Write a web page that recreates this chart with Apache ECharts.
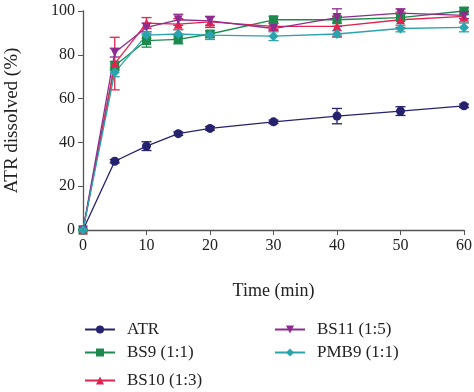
<!DOCTYPE html>
<html><head><meta charset="utf-8">
<script src="https://cdn.jsdelivr.net/npm/echarts@6/dist/echarts.min.js"></script>
<style>html,body{margin:0;padding:0;background:#fff}#c{width:474px;height:392px}</style>
</head><body><div id="c"></div>
<script>
var times = [0, 5, 10, 15, 20, 30, 40, 50, 60];
var seriesNames = ['ATR', 'BS9 (1:1)', 'BS10 (1:3)', 'BS11 (1:5)', 'PMB9 (1:1)'];
var atr  = [0, 31.4, 38.3, 44.0, 46.4, 49.4, 52.0, 54.3, 56.7];
var bs9  = [0, 75.0, 86.5, 87.0, 89.5, 96.0, 96.0, 97.0, 100.0];
var bs10 = [0, 76.0, 94.5, 94.0, 95.0, 93.0, 93.0, 96.0, 97.5];
var bs11 = [0, 81.0, 92.5, 96.0, 95.5, 92.0, 97.0, 99.0, 98.0];
var pmb9 = [0, 72.0, 89.0, 89.5, 89.0, 88.5, 89.5, 92.0, 92.5];
var atrErr  = [0, 0.8, 2.0, 0.8, 0.8, 0.8, 3.5, 2.0, 0.8];
var bs9Err  = [0, 2.0, 3.0, 2.0, 1.5, 1.5, 1.5, 1.5, 1.5];
var bs10Err = [0, 12.0, 2.5, 2.5, 2.5, 1.5, 4.5, 3.5, 2.5];
var bs11Err = [0, 2.0, 2.0, 2.5, 2.0, 1.0, 4.0, 2.0, 1.5];
var pmb9Err = [0, 2.0, 1.5, 2.0, 2.0, 2.0, 1.5, 1.5, 2.0];
var yTicks = [0, 20, 40, 60, 80, 100];
var xTicks = [0, 10, 20, 30, 40, 50, 60];

var colors = ['#25226e', '#1c8a4c', '#e2234f', '#8e2b8e', '#2aa3ad'];
var symbols = ['circle', 'rect', 'triangle', 'path://M0,0 L10,0 L5,9 Z', 'diamond'];
var values = [atr, bs9, bs10, bs11, pmb9];
var errs = [atrErr, bs9Err, bs10Err, bs11Err, pmb9Err];

var font = '"Liberation Serif", "DejaVu Serif", serif';
var series = [];
values.forEach(function (v, i) {
  series.push({
    name: seriesNames[i], type: 'line',
    data: times.map(function (t, k) { return [t, v[k]]; }),
    symbol: symbols[i], symbolSize: i === 4 ? 10 : 9,
    lineStyle: { color: colors[i], width: 1.3 },
    itemStyle: { color: colors[i] },
    clip: false, z: 3
  });
  series.push({
    name: seriesNames[i], type: 'custom',
    data: times.map(function (t, k) { return [t, v[k] - errs[i][k], v[k] + errs[i][k]]; }),
    clip: false, z: 2,
    renderItem: function (params, api) {
      var lo = api.coord([api.value(0), api.value(1)]);
      var hi = api.coord([api.value(0), api.value(2)]);
      var w = 5;
      var st = { stroke: colors[i], lineWidth: 1.3 };
      return { type: 'group', children: [
        { type: 'line', shape: { x1: lo[0], y1: lo[1], x2: hi[0], y2: hi[1] }, style: st },
        { type: 'line', shape: { x1: lo[0] - w, y1: lo[1], x2: lo[0] + w, y2: lo[1] }, style: st },
        { type: 'line', shape: { x1: hi[0] - w, y1: hi[1], x2: hi[0] + w, y2: hi[1] }, style: st }
      ]};
    }
  });
});

var legendPos = [[84, 330], [84, 353], [84, 381], [274, 330], [274, 353]];
var legends = seriesNames.map(function (n, i) {
  return {
    orient: 'horizontal', itemWidth: 30, itemHeight: 10, padding: 0,
    left: legendPos[i][0], top: legendPos[i][1] - 9,
    textStyle: { fontFamily: font, fontSize: 17, color: '#222', padding: [0, 0, 0, 7] },
    selectedMode: false, data: [n]
  };
});

var chart = echarts.init(document.getElementById('c'), null, { renderer: 'canvas' });
chart.setOption({
  animation: false,
  backgroundColor: '#fff',
  grid: { left: 83, right: 10, top: 11, bottom: 162, containLabel: false, outerBoundsMode: 'none' },
  xAxis: {
    type: 'value', min: 0, max: 60, interval: 10,
    name: 'Time (min)', nameLocation: 'middle', nameGap: 52,
    nameTextStyle: { fontFamily: font, fontSize: 18, color: '#222' },
    axisLine: { lineStyle: { color: '#555', width: 1.3 } },
    axisTick: { show: true, length: 5, lineStyle: { color: '#555' } },
    axisLabel: { fontFamily: font, fontSize: 16, color: '#222', margin: 8,
      formatter: function (v) { return xTicks.indexOf(v) >= 0 ? String(v) : ''; } },
    splitLine: { show: false }
  },
  yAxis: {
    type: 'value', min: 0, max: 100, interval: 20,
    name: 'ATR dissolved (%)', nameLocation: 'middle', nameGap: 61,
    nameTextStyle: { fontFamily: font, fontSize: 19, color: '#222' },
    axisLine: { show: true, lineStyle: { color: '#555', width: 1.3 } },
    axisTick: { show: true, length: 5, lineStyle: { color: '#555' } },
    axisLabel: { fontFamily: font, fontSize: 16, color: '#222', margin: 8,
      formatter: function (v) { return yTicks.indexOf(v) >= 0 ? String(v) : ''; } },
    splitLine: { show: false }
  },
  legend: legends,
  series: series
});
</script></body></html>
